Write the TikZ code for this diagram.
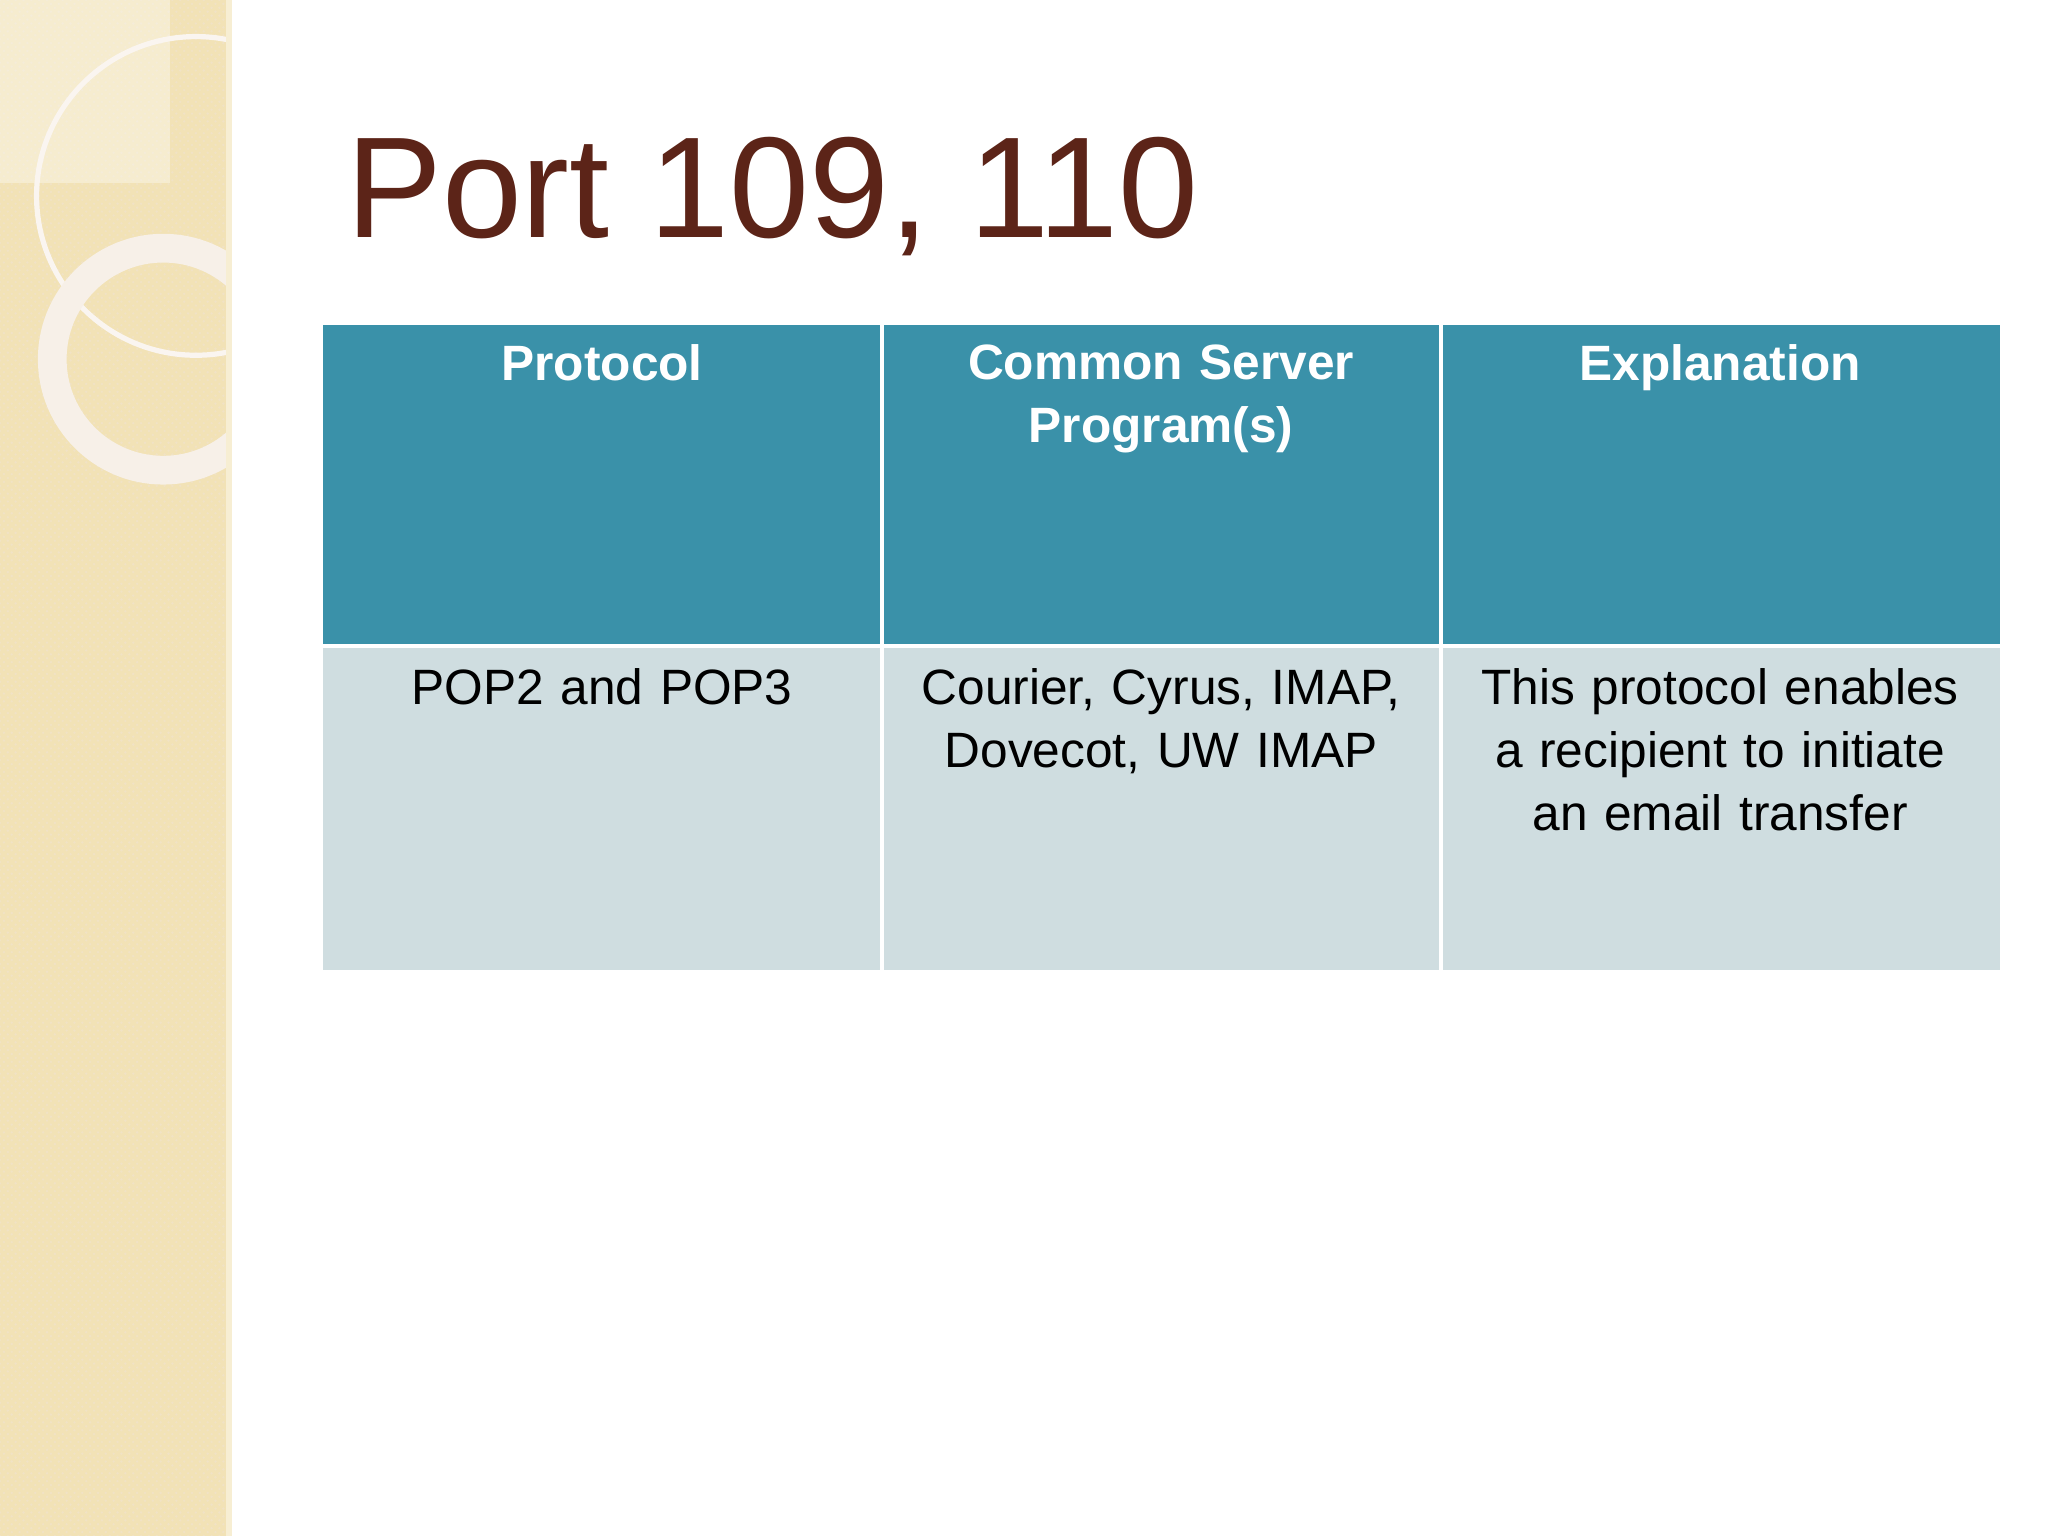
\documentclass[tikz,border=0pt]{standalone}
\usepackage{fontspec}
\setmainfont{Liberation Sans}
\usetikzlibrary{patterns}
\definecolor{beige}{HTML}{F2E2B6}
\definecolor{hdr}{HTML}{3A91A9}
\definecolor{bdy}{HTML}{CFDDE0}
\definecolor{ttl}{HTML}{5C2418}
\begin{document}
\begin{tikzpicture}[x=0.5pt,y=-0.5pt,
  cell/.style={anchor=north,align=center,text width=190pt,font=\fontsize{19}{24}\selectfont},
  head/.style={cell,text=white,font=\fontsize{19}{24}\selectfont\bfseries}]
\useasboundingbox (0,0) rectangle (1568,1176);
\fill[white] (0,0) rectangle (1568,1176);
\fill[beige] (0,0) rectangle (173,1176);
\fill[pattern=crosshatch dots,pattern color=beige!80!brown!60] (0,0) rectangle (173,1176);
\fill[white,opacity=0.35] (0,0) rectangle (130,140);
\fill[beige!60!white] (173,0) rectangle (178,1176);
\begin{scope}
\clip (0,0) rectangle (173,1176);
\draw[white!92!brown,line width=2pt] (150,150) circle (122);
\draw[white!88!brown,line width=11pt] (125,275) circle (85);
\end{scope}
\node[anchor=base west,text=ttl,font=\fontsize{55}{60}\selectfont] (title) at (258,182) {Port 109, 110};
\fill[hdr] (247,249) rectangle (1531,493);
\fill[bdy] (247,496) rectangle (1531,743);
\draw[white,line width=1.5pt] (675,249) -- (675,743) (1103,249) -- (1103,743);
\node[head] (h1) at (461,257) {Protocol};
\node[head] (h2) at (889,257) {Common Server\\Program(s)};
\node[head] (h3) at (1317,257) {Explanation};
\node[cell] (c1) at (461,505) {POP2 and POP3};
\node[cell] (c2) at (889,505) {Courier, Cyrus, IMAP,\\Dovecot, UW IMAP};
\node[cell] (c3) at (1317,505) {This protocol enables\\a recipient to initiate\\an email transfer};
\end{tikzpicture}
\end{document}
